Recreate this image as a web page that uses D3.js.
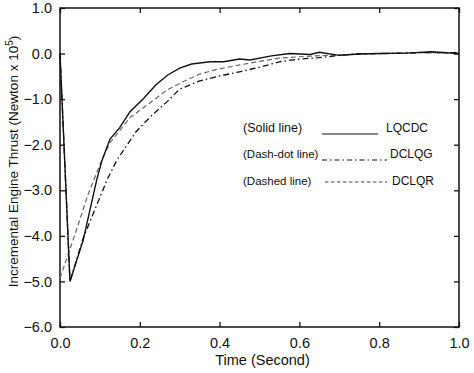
<!DOCTYPE html>
<meta charset="utf-8">
<script src="https://d3js.org/d3.v7.min.js"></script>
<html>
<head>
<style>
body { margin: 0; background: white; }
text { font-family: Arial, "Liberation Sans", sans-serif; fill: #111; }
</style>
</head>
<body>
<div id="my_dataviz"></div>
<script>

// data
var lqcdcTime  = [0, 0.025, 0.058, 0.092, 0.105, 0.125, 0.15, 0.175, 0.21, 0.24, 0.27, 0.30, 0.33, 0.376, 0.41, 0.45, 0.476, 0.53, 0.576, 0.627, 0.65, 0.70, 0.75, 0.80, 0.87, 0.93, 1.0];
var lqcdcValue = [0, -5.0, -4.1, -2.77, -2.35, -1.88, -1.62, -1.28, -0.98, -0.69, -0.47, -0.32, -0.23, -0.18, -0.18, -0.12, -0.14, -0.05, 0.0, -0.02, 0.03, -0.04, -0.01, 0.0, 0.01, 0.04, 0.0];

var dclqgTime  = [0, 0.025, 0.058, 0.118, 0.143, 0.163, 0.19, 0.226, 0.268, 0.30, 0.35, 0.396, 0.45, 0.50, 0.55, 0.60, 0.65, 0.70, 0.75, 0.80, 0.90, 1.0];
var dclqgValue = [0, -5.0, -4.05, -2.77, -2.33, -2.07, -1.72, -1.39, -1.06, -0.78, -0.6, -0.5, -0.4, -0.3, -0.18, -0.12, -0.09, -0.04, 0.0, 0.0, 0.02, 0.02];

var dclqrTime  = [0, 0.04, 0.07, 0.105, 0.125, 0.175, 0.226, 0.268, 0.308, 0.35, 0.396, 0.45, 0.50, 0.55, 0.60, 0.64, 0.70, 0.75, 0.80, 0.90, 1.0];
var dclqrValue = [-4.93, -3.9, -3.1, -2.33, -1.96, -1.41, -1.08, -0.80, -0.62, -0.45, -0.34, -0.25, -0.17, -0.1, -0.07, -0.05, -0.03, -0.01, 0.0, 0.02, 0.01];

var xTicks = [0, 0.2, 0.4, 0.6, 0.8, 1.0];
var yTicks = [1, 0, -1, -2, -3, -4, -5, -6];

var legendNames  = ["(Solid line)", "(Dash-dot line)", "(Dashed line)"];
var legendLabels = ["LQCDC", "DCLQG", "DCLQR"];

// set the dimensions and margins of the graph
var margin = {top: 8, right: 15, bottom: 46, left: 60},
    width = 474 - margin.left - margin.right,
    height = 373 - margin.top - margin.bottom;

var svg = d3.select("#my_dataviz")
  .append("svg")
    .attr("width", 474)
    .attr("height", 373)
  .append("g")
    .attr("transform", "translate(" + margin.left + "," + margin.top + ")");

var x = d3.scaleLinear().domain([0, 1]).range([0, width]);
var y = d3.scaleLinear().domain([-6, 1]).range([height, 0]);

// frame
svg.append("rect")
  .attr("width", width)
  .attr("height", height)
  .attr("fill", "none")
  .attr("stroke", "#111")
  .attr("stroke-width", 1.5);

// axes with inward ticks
var fmt = d3.format(".1f");
svg.append("g")
  .attr("transform", "translate(0," + height + ")")
  .call(d3.axisBottom(x).tickValues(xTicks).tickFormat(fmt).tickSizeInner(-5).tickSizeOuter(0).tickPadding(11));
svg.append("g")
  .call(d3.axisLeft(y).tickValues(yTicks).tickFormat(fmt).tickSizeInner(-5).tickSizeOuter(0).tickPadding(8));
svg.append("g")
  .attr("transform", "translate(" + width + ",0)")
  .call(d3.axisRight(y).tickValues(yTicks).tickFormat("").tickSizeInner(-5).tickSizeOuter(0));
svg.append("g")
  .call(d3.axisTop(x).tickValues(xTicks).tickFormat("").tickSizeInner(-5).tickSizeOuter(0));

svg.selectAll(".domain").remove();
svg.selectAll(".tick line").attr("stroke", "#111").attr("stroke-width", 1.3);
svg.selectAll(".tick text").style("font-size", "14.5px").style("font-family", "Arial, 'Liberation Sans', sans-serif").attr("fill", "#111");

// lines
var line = d3.line()
  .x(function(d) { return x(d[0]); })
  .y(function(d) { return y(d[1]); });

svg.append("path")
  .datum(d3.zip(dclqrTime, dclqrValue))
  .attr("fill", "none")
  .attr("stroke", "#666")
  .attr("stroke-width", 1.2)
  .attr("stroke-dasharray", "5,3")
  .attr("d", line);

svg.append("path")
  .datum(d3.zip(dclqgTime, dclqgValue))
  .attr("fill", "none")
  .attr("stroke", "#111")
  .attr("stroke-width", 1.3)
  .attr("stroke-dasharray", "6,3,1.5,3")
  .attr("d", line);

svg.append("path")
  .datum(d3.zip(lqcdcTime, lqcdcValue))
  .attr("fill", "none")
  .attr("stroke", "#111")
  .attr("stroke-width", 1.4)
  .attr("d", line);

// legend
var legendY = [124, 150, 177];
var legendSize = [12.5, 11.5, 11.5];
var labelX = [326, 330, 332];
var sampleStyle = [
  {dash: null, color: "#111", x1: 262, x2: 318, dy: 2},
  {dash: "5,3,1.5,3", color: "#111", x1: 262, x2: 327, dy: 2},
  {dash: "3.5,2.5", color: "#444", x1: 265, x2: 327, dy: -3}
];
legendNames.forEach(function(name, i) {
  svg.append("text")
    .attr("x", 183)
    .attr("y", legendY[i])
    .style("font-size", legendSize[i] + "px")
    .text(name);
  svg.append("line")
    .attr("x1", sampleStyle[i].x1)
    .attr("x2", sampleStyle[i].x2)
    .attr("y1", legendY[i] + sampleStyle[i].dy)
    .attr("y2", legendY[i] + sampleStyle[i].dy)
    .attr("stroke", sampleStyle[i].color)
    .attr("stroke-width", 1.1)
    .attr("stroke-dasharray", sampleStyle[i].dash);
  svg.append("text")
    .attr("x", labelX[i])
    .attr("y", legendY[i])
    .style("font-size", "12px")
    .text(legendLabels[i]);
});

// axis labels
svg.append("text")
  .attr("text-anchor", "middle")
  .attr("x", width / 2 + 3)
  .attr("y", height + 38)
  .style("font-size", "14.5px")
  .text("Time (Second)");

var yl = svg.append("text")
  .attr("text-anchor", "middle")
  .attr("transform", "translate(-42," + (height / 2 - 6) + ") rotate(-90)")
  .style("font-size", "13.5px");
yl.append("tspan").text("Incremental Engine Thrust (Newton x 10");
yl.append("tspan").attr("dy", -5).style("font-size", "10px").text("5");
yl.append("tspan").attr("dy", 5).text(")");

</script>
</body>
</html>
